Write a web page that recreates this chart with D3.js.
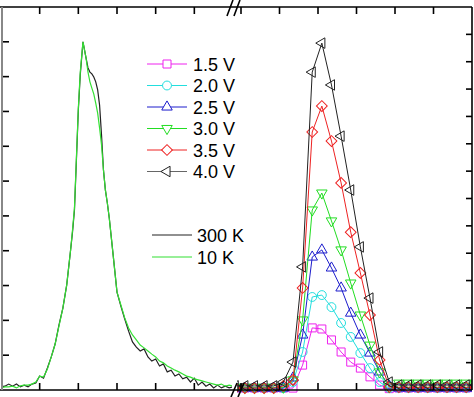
<!DOCTYPE html>
<html>
<head>
<meta charset="utf-8">
<script src="https://cdn.jsdelivr.net/npm/d3@7"></script>
<style>
  body { margin: 0; background: #fff; }
  text { font-family: Arial, "Liberation Sans", sans-serif; }
</style>
</head>
<body>
<svg width="474" height="397"></svg>
<script>
// left panel: PL spectra, normalised to 100
const plX = [0, 1, 2, 3, 4, 5, 6, 7, 8, 9, 10, 11, 12, 13, 14, 15, 16, 17, 18, 18.5,
  19, 19.5, 20, 20.5, 21.2, 22, 22.5, 23, 23.5, 24, 24.5, 25, 25.5, 26, 26.5, 27, 27.5,
  28, 29, 30, 31, 32, 33, 34, 35, 36, 37, 38, 39, 40, 41, 42, 43, 44, 45, 46, 47, 48,
  49, 50, 51, 52, 53, 54, 55, 56, 57, 58, 59, 60];
const pl300K = [0.9, 1.1, 1.7, 1.1, 1.7, 0.9, 1.4, 0.9, 1.7, 2.0, 4.0, 3.4, 6.3, 9.5, 13.2, 18.7, 23.5, 30.2, 40.2, 45.4,
  51.7, 66, 80.4, 90.5, 100, 95.3, 92.5, 91.3, 90.8, 89.9, 88.5, 86.2, 81.8, 73.2, 63.2, 57.4, 53.7,
  49.4, 38.8, 28.1, 24.1, 20.4, 16.9, 13.8, 12.3, 11.2, 11.8, 9.5, 8.3, 8.9, 6.9, 7.5, 5.2, 5.7, 4.0, 4.6, 3.2, 3.7,
  2.3, 3.4, 1.4, 2.3, 1.1, 1.7, 0.6, 1.4, 0.6, 1.1, 0.6, 0.9];
const pl10K = [0.6, 0.9, 0.9, 1.1, 0.6, 1.2, 1.4, 1.4, 1.7, 2.3, 4.0, 3.7, 6.0, 9.5, 13.2, 18.4, 23.5, 30.2, 40.2, 46,
  52.3, 66.6, 81, 91.3, 100, 95.3, 91.3, 88.5, 86.7, 85, 82.4, 79.5, 75.2, 70.4, 63.2, 57.4, 53.7,
  49.4, 38.8, 28.1, 24.4, 20.7, 17.8, 15.8, 14.4, 12.9, 12.1, 11.2, 10.3, 9.5, 8.3, 7.8, 6.9, 6.3, 5.7, 5.2, 4.6, 4.0,
  3.7, 3.2, 2.9, 2.6, 2.3, 2.0, 1.7, 1.4, 1.7, 1.1, 1.4, 1.1];

// right panel: EL spectra at different voltages
const elX = [-1.5, 1, 3.5, 6, 8.5, 11, 13.5, 16, 18.5, 21, 23.5, 26, 28.5, 31, 33.5, 36,
  38.5, 41, 43.5, 46, 48.5, 51, 53.5, 56, 58.5, 61];
const el15 = [0.07, 0.07, 0.07, 0.07, 0.07, 0.07, 0.07, 0.91, 2.27, 2.23, 1.83, 1.39, 1.02, 0.80, 0.48, 0.18,
  0.05, 0.07, 0.07, 0.07, 0.07, 0.07, 0.07, 0.07, 0.07, 0.07];
const el20 = [0.07, 0.07, 0.07, 0.07, 0.07, 0.07, 0.29, 1.39, 3.40, 3.47, 3.03, 2.45, 1.94, 1.35, 0.80, 0.29,
  0.07, 0.07, 0.07, 0.07, 0.07, 0.07, 0.07, 0.07, 0.07, 0.07];
const el25 = [0.07, 0.07, 0.07, 0.07, 0.07, 0.07, 0.44, 2.01, 4.86, 5.12, 4.46, 3.73, 2.81, 2.01, 1.35, 0.66,
  0.15, 0.07, 0.07, 0.07, 0.07, 0.07, 0.07, 0.07, 0.07, 0.07];
const el30 = [0.1, 0.1, 0.1, 0.1, 0.1, 0.1, 0.37, 2.56, 6.58, 7.2, 6.18, 5.12, 3.91, 2.74, 1.64, 0.66,
  0.11, 0.25, 0.25, 0.25, 0.25, 0.25, 0.25, 0.25, 0.25, 0.25];
const el35 = [0.07, 0.07, 0.07, 0.07, 0.07, 0.15, 0.37, 3.73, 9.43, 10.38, 9.10, 7.57, 5.77, 4.28, 2.74, 1.10,
  0.11, 0.1, 0.1, 0.1, 0.1, 0.1, 0.1, 0.1, 0.1, 0.1];
const el40 = [0.15, 0.15, 0.15, 0.15, 0.15, 0.29, 1.02, 4.50, 11.62, 12.68, 11.15, 9.28, 7.31, 5.23, 3.36, 1.39,
  0.29, 0.18, 0.18, 0.18, 0.18, 0.18, 0.18, 0.18, 0.18, 0.18];

const voltLabels = ["1.5 V", "2.0 V", "2.5 V", "3.0 V", "3.5 V", "4.0 V"];
const voltSeries = [el15, el20, el25, el30, el35, el40];
const voltColors = ["#ee22ee", "#22dede", "#1c1ccc", "#22dd22", "#ee2222", "#222222"];
const legendLineColors = ["#ee22ee", "#22dede", "#1c1ccc", "#22dd22", "#ee2222", "#666666"];
const tempLabels = ["300 K", "10 K"];
const tempColors = ["#222222", "#33e033"];

const leftXTicks = [10, 20, 30, 40, 50];
const leftYTicks = [10, 20, 30, 40, 50, 60, 70, 80, 90, 100];
const rightXTicks = [0, 10, 20, 30, 40, 50];
const rightYTicks = [1, 2, 3, 4, 5, 6, 7, 8, 9, 10, 11, 12, 13];

const svg = d3.select("svg");
const plotTop = 7, plotBottom = 390, plotLeft = 2, plotRight = 472;

const xL = d3.scaleLinear().domain([0, 60]).range([1, 233]);
const yL = d3.scaleLinear().domain([0, 110]).range([plotBottom, plotTop]);
const xR = d3.scaleLinear().domain([0, 60]).range([241, plotRight]);
const yR = d3.scaleLinear().domain([0, 14]).range([plotBottom, plotTop]);

const defs = svg.append("defs");
defs.append("clipPath").attr("id", "clipL")
  .append("rect").attr("x", plotLeft).attr("y", 0).attr("width", 230).attr("height", 397);
defs.append("clipPath").attr("id", "clipR")
  .append("rect").attr("x", 237).attr("y", 0).attr("width", plotRight - 237).attr("height", 397);

// left panel curves
const lineL = (ys) => d3.line().x((d, i) => xL(plX[i])).y((d) => yL(d))(ys);
const gL = svg.append("g").attr("clip-path", "url(#clipL)");
[pl300K, pl10K].forEach((s, k) => {
  gL.append("path")
    .attr("d", lineL(s))
    .attr("fill", "none")
    .attr("stroke", tempColors[k])
    .attr("stroke-width", 1.2);
});

// marker shapes
const symbols = [
  { type: d3.symbolSquare, size: 64, rot: 0 },
  { type: d3.symbolCircle, size: 62, rot: 0 },
  { type: d3.symbolTriangle, size: 48, rot: 0 },
  { type: d3.symbolTriangle, size: 48, rot: 180 },
  { type: d3.symbolSquare, size: 58, rot: 45 },
  { type: d3.symbolTriangle, size: 48, rot: -90 },
];
const symPath = (k) => d3.symbol().type(symbols[k].type).size(symbols[k].size)();

// right panel curves
const gR = svg.append("g").attr("clip-path", "url(#clipR)");
voltSeries.forEach((s, k) => {
  const g = gR.append("g");
  g.append("path")
    .attr("d", d3.line().x((d, i) => xR(elX[i])).y((d) => yR(d))(s))
    .attr("fill", "none")
    .attr("stroke", voltColors[k])
    .attr("stroke-width", 1);
  g.selectAll("path.m")
    .data(s)
    .join("path")
    .attr("class", "m")
    .attr("d", symPath(k))
    .attr("transform", (d, i) => `translate(${xR(elX[i])},${yR(d)}) rotate(${symbols[k].rot})`)
    .attr("fill", "none")
    .attr("stroke", voltColors[k])
    .attr("stroke-width", 1);
});

// frame
const ax = svg.append("g").attr("stroke", "#000").attr("stroke-width", 1.6);
ax.append("line").attr("x1", 0).attr("x2", plotRight).attr("y1", plotTop).attr("y2", plotTop);
ax.append("line").attr("x1", 0).attr("x2", plotRight).attr("y1", plotBottom).attr("y2", plotBottom);
ax.append("line").attr("x1", plotRight).attr("x2", plotRight).attr("y1", plotTop).attr("y2", plotBottom);
svg.append("line").attr("x1", plotLeft).attr("x2", plotLeft).attr("y1", plotTop).attr("y2", plotBottom)
  .attr("stroke", "#888").attr("stroke-width", 2);

// ticks
leftXTicks.forEach((t) => {
  ax.append("line").attr("x1", xL(t)).attr("x2", xL(t)).attr("y1", plotTop).attr("y2", plotTop + 7);
  ax.append("line").attr("x1", xL(t)).attr("x2", xL(t)).attr("y1", plotBottom).attr("y2", plotBottom - 7);
});
rightXTicks.forEach((t) => {
  ax.append("line").attr("x1", xR(t)).attr("x2", xR(t)).attr("y1", plotTop).attr("y2", plotTop + 7);
  ax.append("line").attr("x1", xR(t)).attr("x2", xR(t)).attr("y1", plotBottom).attr("y2", plotBottom - 7);
});
leftYTicks.forEach((t) => {
  ax.append("line").attr("x1", plotLeft).attr("x2", plotLeft + 7).attr("y1", yL(t)).attr("y2", yL(t));
});
rightYTicks.forEach((t) => {
  ax.append("line").attr("x1", plotRight).attr("x2", plotRight - 6).attr("y1", yR(t)).attr("y2", yR(t));
});

// axis break marks
const brk = svg.append("g").attr("stroke", "#000").attr("stroke-width", 1.6);
[[227, 16, 233, 0], [234, 16, 240, 0], [231, 397, 237, 383], [238, 397, 244, 383]].forEach((l) => {
  brk.append("line").attr("x1", l[0]).attr("y1", l[1]).attr("x2", l[2]).attr("y2", l[3]);
});

// legend: voltages
const legV = svg.append("g");
voltLabels.forEach((lab, k) => {
  const y = 64 + k * 21.5;
  legV.append("line").attr("x1", 147).attr("x2", 187).attr("y1", y).attr("y2", y)
    .attr("stroke", legendLineColors[k]).attr("stroke-width", 1);
  legV.append("path").attr("d", symPath(k))
    .attr("transform", `translate(167,${y}) rotate(${symbols[k].rot})`)
    .attr("fill", "#fff").attr("stroke", voltColors[k]).attr("stroke-width", 1);
  legV.append("text").attr("x", 193).attr("y", y + 6.5)
    .attr("font-size", 18).attr("fill", "#000").text(lab);
});

// legend: temperatures
tempLabels.forEach((lab, k) => {
  const y = 235 + k * 22;
  svg.append("line").attr("x1", 152).attr("x2", 192).attr("y1", y).attr("y2", y)
    .attr("stroke", tempColors[k]).attr("stroke-width", 1.2);
  svg.append("text").attr("x", 197).attr("y", y + 6.5)
    .attr("font-size", 18).attr("fill", "#000").text(lab);
});
</script>
</body>
</html>
